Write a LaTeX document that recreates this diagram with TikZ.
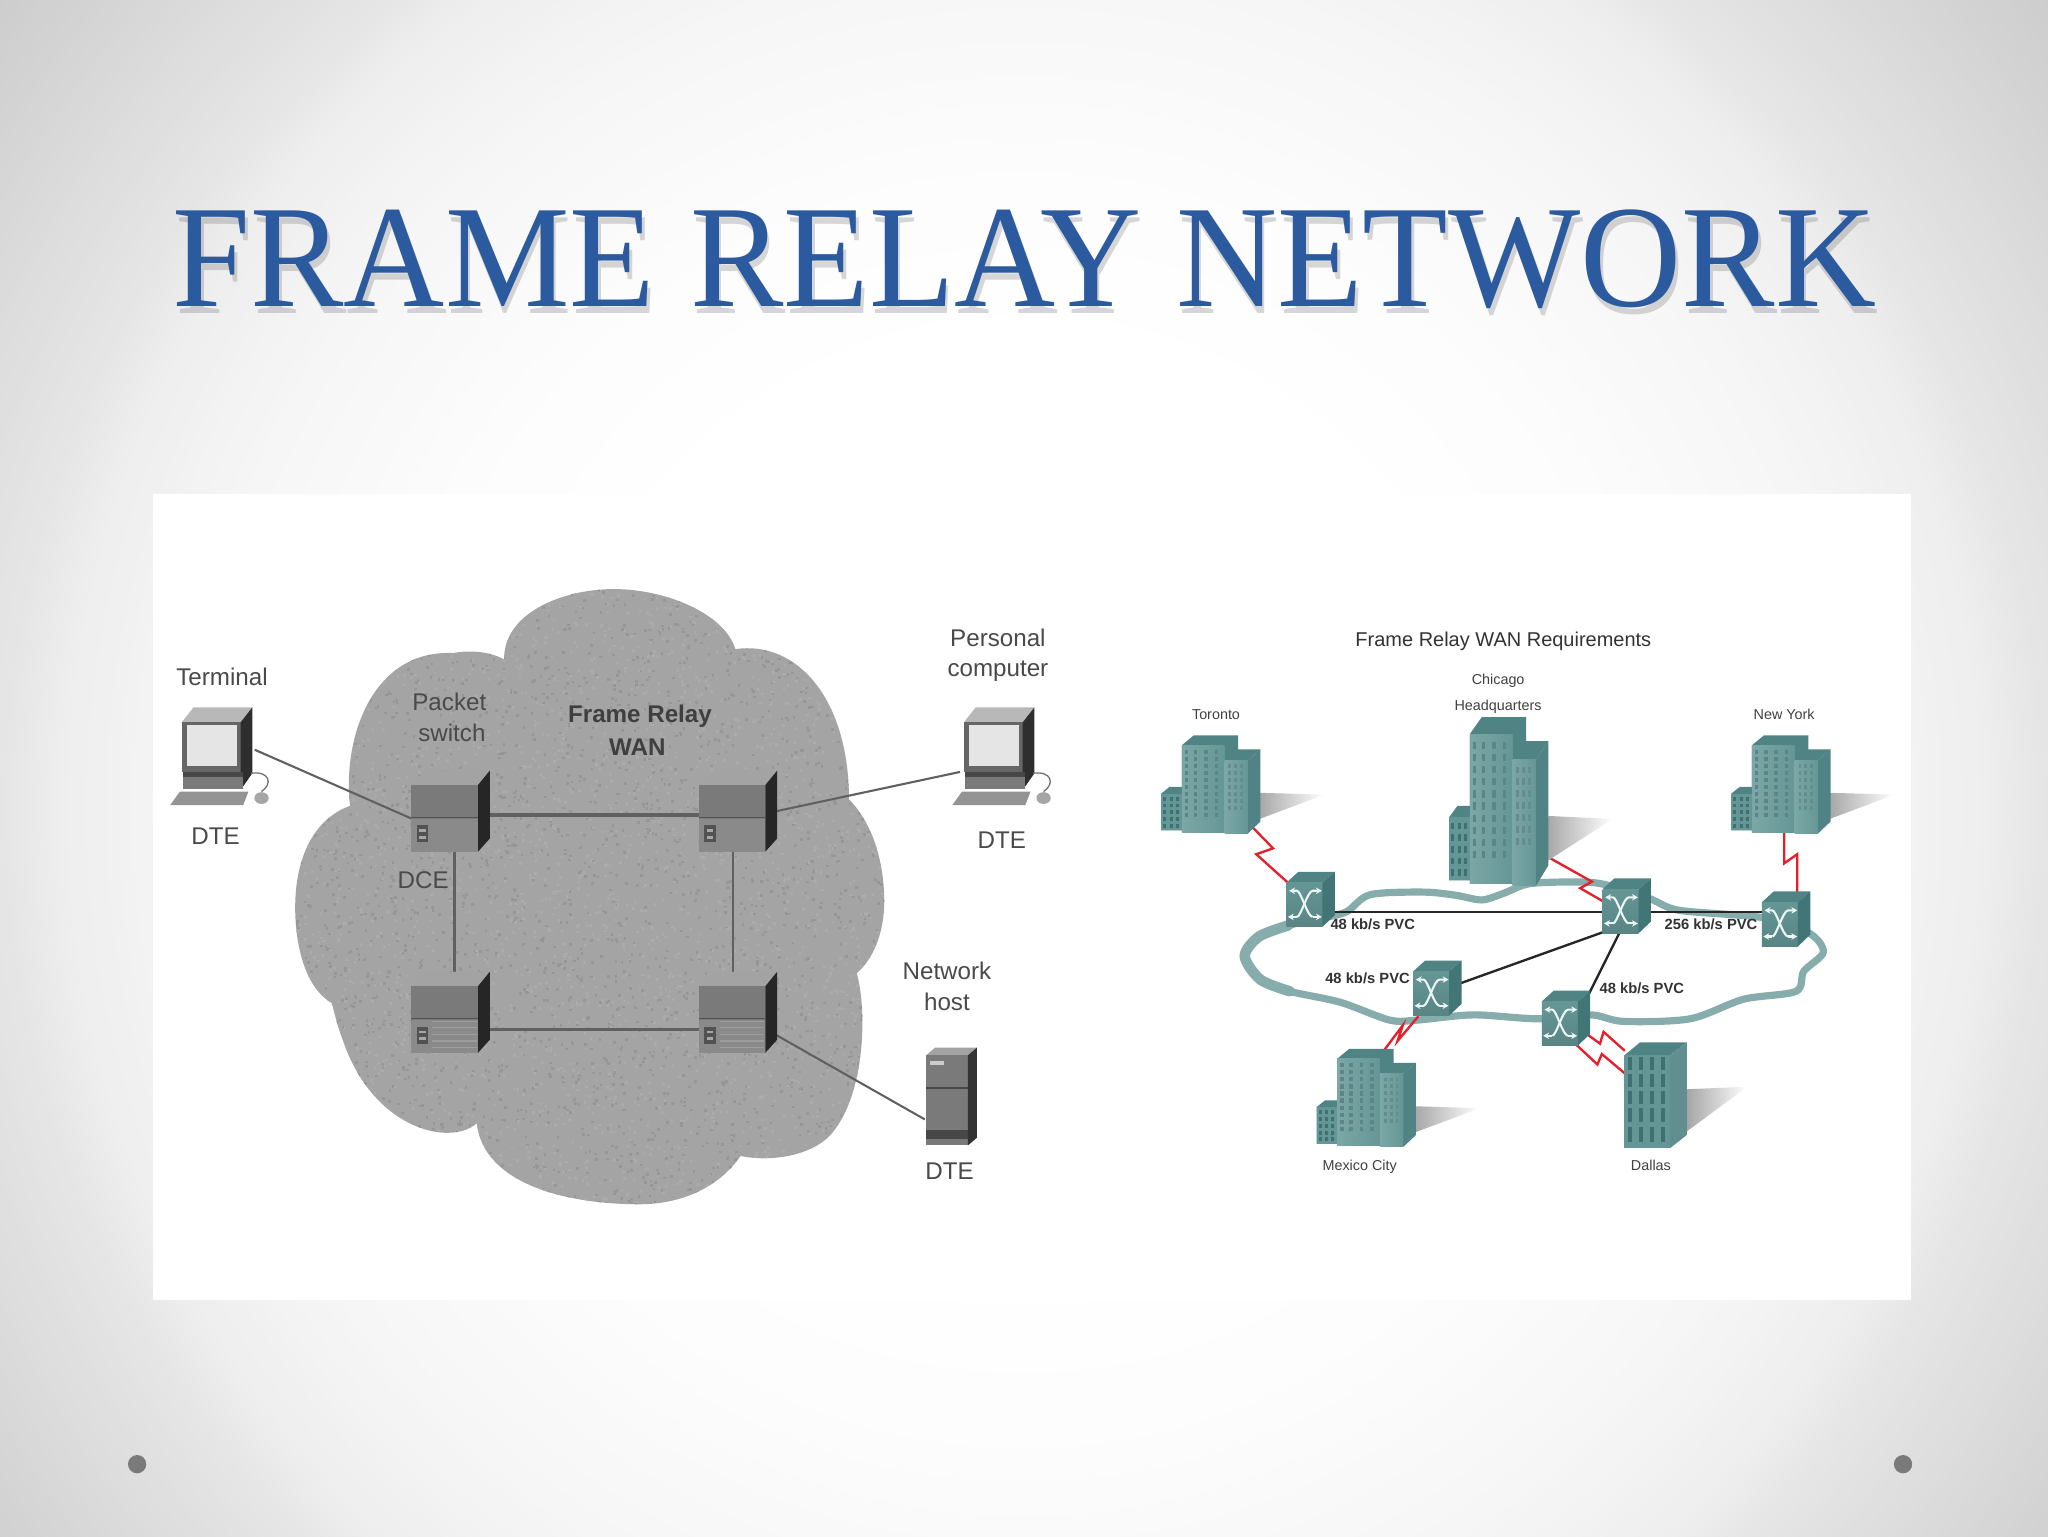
\documentclass[tikz,border=0pt]{standalone}
\usepackage{fontspec}
\setmainfont{Liberation Sans}
\newfontfamily\titlefont{Liberation Serif}
\usetikzlibrary{arrows.meta}
\definecolor{titleblue}{HTML}{2B5A9E}
\definecolor{cloudgray}{HTML}{A4A4A4}
\definecolor{lineg}{HTML}{606060}
\definecolor{txtg}{HTML}{4A4A4A}
\definecolor{teal1}{HTML}{7BA7A6}
\definecolor{teal2}{HTML}{659696}
\definecolor{teal3}{HTML}{4F8384}
\definecolor{teal4}{HTML}{427576}
\definecolor{tealw}{HTML}{3F7072}
\definecolor{tealc}{HTML}{86ADAB}
\definecolor{redl}{HTML}{E4202C}
\newcommand{\slidetitle}{\resizebox{1304pt}{74pt}{\titlefont FRAME RELA\kern-1.1pt Y NETWORK}}
\tikzset{
  lab/.style={font=\fontsize{18.5}{20}\selectfont,text=txtg,inner sep=0pt},
  labb/.style={font=\fontsize{18.5}{20}\selectfont\bfseries,text=txtg!85!black,inner sep=0pt},
  city/.style={font=\fontsize{11}{13}\selectfont,text=black!75,inner sep=0pt},
  pvc/.style={font=\fontsize{11.3}{13}\selectfont\bfseries,text=black!80,inner sep=0pt},
  glink/.style={draw=lineg,line width=1.6pt},
  blink/.style={draw=black!85,line width=1.8pt},
  redz/.style={draw=redl,line width=1.8pt,line join=miter},
  pswitch/.pic={
    \fill[black!36] (0,11) -- (12,0) -- (60,0) -- (51,11) -- cycle;
    \fill[black!52] (0,11) rectangle (51,62);
    \fill[black!46] (0,37) rectangle (51,62);
    \draw[black!68,line width=1pt] (0,36) -- (51,36);
    \fill[black!85] (51,11) -- (60,0) -- (60,52) -- (51,62) -- cycle;
    \fill[black!68] (4,42) rectangle (13,55);
    \fill[black!35] (6,45) rectangle (11,47);
    \fill[black!35] (6,50) rectangle (11,52);
  },
  pterm/.pic={
    \fill[black!28] (9,13) -- (18,1.5) -- (63,1.5) -- (54,13) -- cycle;
    \fill[black!60] (9,13) rectangle (54,51);
    \fill[black!10] (12.8,15) rectangle (51.5,46.7);
    \fill[black!82] (54,13) -- (63,1.5) -- (63,52) -- (56,62) -- (54,51) -- cycle;
    \fill[black!52] (10,51) rectangle (56,64);
    \fill[black!72] (10,51) rectangle (56,55);
    \fill[black!42] (7.6,66) -- (60,66) -- (56,76.5) -- (0,76.5) -- cycle;
    \draw[black!55,line width=1pt] (62,52) .. controls (76,50) and (79,60) .. (70,66);
    \fill[black!35] (70,71) ellipse (5.5 and 4.5);
  },
  phost/.pic={
    \fill[black!36] (0,6) -- (7,0) -- (39,0) -- (32,6) -- cycle;
    \fill[black!52] (0,6) rectangle (32,75);
    \fill[black!20] (3,10) rectangle (14,13);
    \draw[black!72,line width=1pt] (0,31) -- (32,31);
    \fill[black!72] (0,63) rectangle (32,70);
    \fill[black!80] (32,6) -- (39,0) -- (39,69) -- (32,75) -- cycle;
  },
  bldg/.pic={
    \shade[left color=black!38,right color=white] (70,66) -- (125,45.4) -- (76,44) -- cycle;
    \fill[teal3] (6.4,39.5) -- (15.8,39.5) -- (15.8,72.7) -- (0,72.7) -- (0,44.6) -- cycle;
    \fill[teal2] (0,44.6) rectangle (15.8,72.7);
    \foreach \c in {1.5,6.5,11}\foreach \r in {0,...,4}{\fill[tealw] (\c,47+\r*5.2) rectangle +(2.4,3);}
    \fill[teal3] (15.8,7.6) -- (25,0) -- (59,0) -- (59,20) -- (48.5,74) -- (15.8,74) -- cycle;
    \shade[left color=teal1,right color=teal2] (15.8,7.6) rectangle (48.5,74);
    \foreach \c in {18,25,33,41}\foreach \r in {0,...,9}{\fill[tealw!85] (\c,11+\r*5.4) rectangle +(2.8,3.2);}
    \fill[teal3] (48.5,19) -- (58,10.7) -- (76,10.7) -- (66.5,19) -- cycle;
    \shade[left color=teal1,right color=teal2] (48.5,19) rectangle (66.5,75);
    \foreach \c in {51.5,56,60.5}\foreach \r in {0,...,6}{\fill[tealw!80] (\c,22+\r*5.3) rectangle +(2.2,3);}
    \fill[teal3] (66.5,19) -- (76,10.7) -- (76,66) -- (66.5,75) -- cycle;
  },
  tower/.pic={
    \shade[left color=black!38,right color=white] (44,71) -- (94,34) -- (47,36) -- cycle;
    \fill[teal3] (0,10) -- (12,0) -- (47.7,0) -- (35,10) -- cycle;
    \fill[teal2] (0,10) rectangle (35,81);
    \foreach \c in {2.5,11,19.5,28}\foreach \y/\h in {11/10,24/10,37/10,50/11,65/11}{\fill[tealw] (\c,\y) rectangle +(3,\h);}
    \fill[teal3!90] (35,10) -- (47.7,0) -- (47.7,71) -- (35,81) -- cycle;
  },
  xarm/.style={white!92!teal,line width=1.6pt},
  xswitch/.pic={
    \fill[teal3] (0,8.7) -- (9,0.5) -- (37,0.5) -- (27.5,8.7) -- cycle;
    \shade[top color=teal2,bottom color=teal2!88!black] (0,8.7) rectangle (27.5,42.6);
    \fill[teal4] (27.5,8.7) -- (37,0.5) -- (37,33.5) -- (27.5,42.6) -- cycle;
    \draw[xarm,{Stealth[length=4.5pt,width=5pt]}-] (2,15) -- (8,15) .. controls (11,15) and (16,35) .. (20,35);
    \draw[xarm,-{Stealth[length=4.5pt,width=5pt]}] (20,35) -- (27,35);
    \draw[xarm,{Stealth[length=4.5pt,width=5pt]}-] (27,15) -- (20,15) .. controls (16,15) and (11,35) .. (8,35);
    \draw[xarm,-{Stealth[length=4.5pt,width=5pt]}] (8,35) -- (1,35);
  }
}
\begin{document}
\begin{tikzpicture}[x=1pt,y=-1pt]
\useasboundingbox (0,0) rectangle (1568,1176);
% slide background: stepped radial gradient
\fill[black!20] (0,0) rectangle (1568,1176);
\begin{scope}
\clip (0,0) rectangle (1568,1176);
\foreach \i in {0,...,135}{
  \pgfmathsetmacro\rr{1.3-\i*0.0065}
  \pgfmathsetmacro\gw{\rr>1 ? 0.90-(\rr-1)*0.36 : (\rr>0.94 ? 0.935-(\rr-0.94)*0.583 : (\rr>0.81 ? 0.965-(\rr-0.81)*0.231 : (\rr>0.62 ? 0.99-(\rr-0.62)*0.132 : min(1,1-(\rr-0.45)*0.059))))}
  \definecolor{bgstep}{gray}{\gw}
  \fill[bgstep] (784,620) ellipse ({784*\rr} and {800*\rr});
}
\end{scope}

% title
\node[anchor=base west,inner sep=0pt,text=black!70,opacity=.22] (titleShadow) at (134,240) {\slidetitle};
\node[anchor=base west,inner sep=0pt,text=titleblue] (title) at (132,235) {\slidetitle};

% panel
\fill[white] (117,378) rectangle (1463,995);

% ---- left network
\begin{scope}
\clip
  (386,505) .. controls (385,470) and (430,451) .. (470,451)
  .. controls (510,451) and (555,470) .. (563,497)
  .. controls (610,490) and (650,535) .. (650,612)
  .. controls (668,630) and (677,660) .. (677,690)
  .. controls (677,715) and (668,735) .. (656,745)
  .. controls (664,775) and (662,835) .. (639,865)
  .. controls (625,885) and (590,890) .. (567,885)
  .. controls (550,910) and (520,922) .. (490,922)
  .. controls (430,922) and (370,905) .. (365,860)
  .. controls (345,878) and (285,865) .. (262,795)
  .. controls (258,785) and (256,775) .. (254,768)
  .. controls (232,755) and (226,720) .. (226,695)
  .. controls (226,650) and (245,625) .. (268,617)
  .. controls (262,565) and (285,497) .. (347,500)
  .. controls (362,497) and (378,500) .. (386,505) -- cycle;
\fill[cloudgray] (220,445) rectangle (685,930);
\pgfmathsetseed{4242}
\foreach \i in {1,...,2500}{
  \pgfmathsetmacro\ax{226+451*rnd}
  \pgfmathsetmacro\ay{451+471*rnd}
  \pgfmathsetmacro\bx{226+451*rnd}
  \pgfmathsetmacro\by{451+471*rnd}
  \fill[black!33] (\ax,\ay) rectangle +(2,2);
  \fill[black!41] (\bx,\by) rectangle +(2,2);
}
\end{scope}

\coordinate (termP) at (195,574);
\coordinate (pcP) at (735,591);
\coordinate (hostP) at (708,857);
\coordinate (psTL) at (318,628);
\coordinate (psTLr) at (370,624);
\coordinate (psTLb) at (348,650);
\coordinate (psTR) at (590,622);
\coordinate (psTRl) at (540,624);
\coordinate (psTRb) at (561,650);
\coordinate (psBL) at (370,788);
\coordinate (psBLt) at (348,746);
\coordinate (psBR) at (540,788);
\coordinate (psBRt) at (561,746);
\coordinate (psBRr) at (590,790);
\draw[glink] (termP) -- (psTL);
\draw[glink] (pcP) -- (psTR);
\draw[glink] (hostP) -- (psBRr);
\draw[glink,line width=2.4pt] (psTLr) -- (psTRl);
\draw[glink,line width=2.4pt] (psBL) -- (psBR);
\draw[glink] (psTLb) -- (psBLt);
\draw[glink] (psTRb) -- (psBRt);

\pic at (315,590) {pswitch};
\pic at (535,590) {pswitch};
\pic at (315,744) {pswitch};
\pic at (535,744) {pswitch};
\foreach \ox in {315,535}{
  \foreach \yy in {38,43,48,53,58}{\draw[black!38,line width=.8pt] (\ox+16,744+\yy) -- (\ox+50,744+\yy);}
}
\pic at (130.2,540) {pterm};
\pic at (729,540) {pterm};
\pic at (709,802) {phost};

\node[lab] (lTerm) at (170,518) {Terminal};
\node[lab] (lD1) at (165,640) {DTE};
\node[lab] (lPk) at (344,537) {Packet};
\node[lab] (lSw) at (346,561) {switch};
\node[labb] (lFR) at (490,548) {Frame Relay};
\node[labb] (lWan) at (488,572) {WAN};
\node[lab] (lDce) at (324,674) {DCE};
\node[lab] (lPer) at (764,488) {Personal};
\node[lab] (lCom) at (764,514) {computer};
\node[lab] (lD2) at (767,643) {DTE};
\node[lab] (lNet) at (725,743) {Network};
\node[lab] (lHo) at (725,767) {host};
\node[lab] (lD3) at (727,897) {DTE};

% ---- right network
\draw[tealc,line width=5.5pt,line join=round]
  plot[smooth cycle,tension=.5] coordinates {
   (953,732) (964,717) (986.5,708.5) (1012,703) (1031,698) (1049,685) (1090,683) (1115,685.5) (1134.5,689)
   (1151,684) (1171.5,676.5) (1210,675.3) (1230,677.5) (1263,688) (1286,697) (1350,702.6) (1385,714.3)
   (1396,729) (1381,743.6) (1375,759) (1335,765) (1294,780) (1243,782) (1218,777) (1177,780) (1128,777)
   (1085,781) (1064,781) (1026,767.3) (987.7,759) (965,750)};
\draw[tealc,line width=8pt,line cap=round] plot[smooth,tension=.5] coordinates {(986.5,708.5) (964,717) (953,732) (965,750) (987.7,759)};

\coordinate (tE) at (1015,698);
\coordinate (cW) at (1235,698);
\coordinate (cE) at (1258,698);
\coordinate (nW) at (1355,698);
\coordinate (cSW) at (1232,712);
\coordinate (mE) at (1112,755);
\coordinate (cS) at (1241,712);
\coordinate (dN) at (1215,764);
\draw[blink] (tE) -- (cW);
\draw[blink] (cE) -- (nW);
\draw[blink] (cSW) -- (mE);
\draw[blink] (cS) -- (dN);

\coordinate (bT) at (959.6,634);
\coordinate (sT) at (986.3,676);
\coordinate (bC) at (1185,656);
\coordinate (sC) at (1229,691);
\coordinate (bN) at (1366,636);
\coordinate (sN) at (1376,684);
\coordinate (bM) at (1059,805);
\coordinate (sM) at (1086,778);
\coordinate (bD1) at (1244,804.5);
\coordinate (sD1) at (1216,792.5);
\coordinate (bD2) at (1244,821.8);
\coordinate (sD2) at (1207,800);
\draw[redz] (bT) -- (974.7,649.5) -- (961.8,654) -- (sT);
\draw[redz] (bC) -- (1218.8,675) -- (1209.8,680) -- (sC);
\draw[redz] (bN) -- (1366,661) -- (1376,654) -- (sN);
\draw[redz] (bM) -- (1074,785) -- (1070,797) -- (sM);
\draw[redz] (sD1) -- (1225,799) -- (1227.7,790) -- (bD1);
\draw[redz] (sD2) -- (1223,815) -- (1226.4,807) -- (bD2);

\pic at (889,563) {bldg};
\pic at (1325.5,563) {bldg};
\pic at (1008,803) {bldg};
\pic[yscale=1.72] at (1109.5,549) {bldg};
\pic at (1243.7,798) {tower};

\pic at (985,667) {xswitch};
\pic at (1227,672) {xswitch};
\pic at (1349,682) {xswitch};
\pic at (1082,735) {xswitch};
\pic at (1180.5,758) {xswitch};

\node[font=\fontsize{15.3}{18}\selectfont,text=black!80,inner sep=0pt] (rTitle) at (1151,491) {Frame Relay WAN Requirements};
\node[city] (nTor) at (931,547) {Toronto};
\node[city] (nChi) at (1147,521) {Chicago};
\node[city] (nHq) at (1147,541) {Headquarters};
\node[city] (nNY) at (1366,547) {New York};
\node[city] (nMx) at (1041,893) {Mexico City};
\node[city] (nDa) at (1264,892) {Dallas};
\node[pvc] (p1) at (1051,708) {48 kb/s PVC};
\node[pvc] (p2) at (1310,708) {256 kb/s PVC};
\node[pvc] (p3) at (1047,749) {48 kb/s PVC};
\node[pvc] (p4) at (1257,757) {48 kb/s PVC};

% dots
\fill[black!52] (105,1121) circle (7);
\fill[black!52] (1457,1121) circle (7);
\end{tikzpicture}
\end{document}
